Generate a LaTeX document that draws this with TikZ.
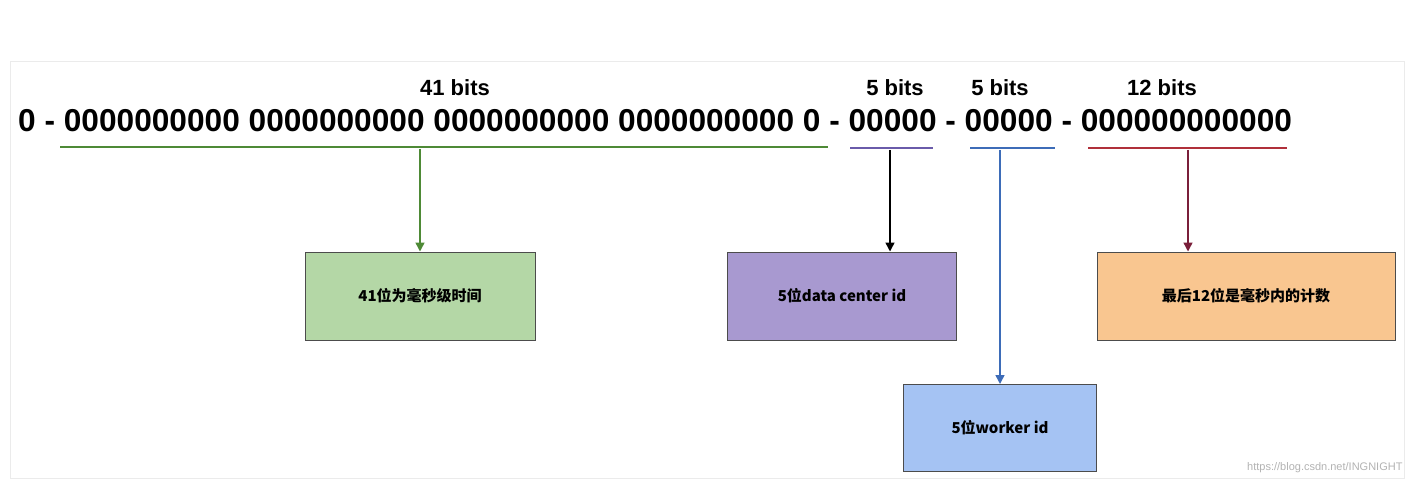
\documentclass[tikz,border=0pt]{standalone}
\usepackage{fontspec}
\setmainfont{Liberation Sans}
\newfontfamily\cjk{Noto Sans CJK SC}
\usetikzlibrary{arrows.meta}
\definecolor{gfill}{HTML}{B4D7A6}
\definecolor{pfill}{HTML}{A899D0}
\definecolor{ofill}{HTML}{F9C690}
\definecolor{bfill}{HTML}{A5C3F3}
\definecolor{gline}{HTML}{4E8A36}
\definecolor{pline}{HTML}{6A5BAA}
\definecolor{bline}{HTML}{3D6CB8}
\definecolor{rline}{HTML}{B0303A}
\definecolor{mline}{HTML}{7A1F3A}
\tikzset{
  lbl/.style={font=\bfseries\fontsize{22}{26}\selectfont, inner sep=0},
  box/.style={draw=black!70, line width=1pt, minimum height=88pt, font=\cjk\bfseries\fontsize{15}{18}\selectfont},
  ul/.style={line width=2.5pt},
  arr/.style={line width=1.5pt, -{Triangle[length=9pt,width=9pt]}}
}
\begin{document}
\begin{tikzpicture}[x=1pt,y=-1pt]
\useasboundingbox (0,0) rectangle (1414,484);
\draw[black!8, line width=1pt] (10,62) rectangle (1404,478);
\node[lbl, anchor=base west] (bits) at (18,132) {\resizebox{1274pt}{!}{0 - 0000000000 0000000000 0000000000 0000000000 0 - 00000 - 00000 - 000000000000}};
\node[lbl] (l41) at (455,88) {41 bits};
\node[lbl] (l5a) at (895,88) {5 bits};
\node[lbl] (l5b) at (1000,88) {5 bits};
\node[lbl] (l12) at (1162,88) {12 bits};
\coordinate (ga) at (60,147); \coordinate (gb) at (828,147);
\coordinate (pa) at (850,148); \coordinate (pb) at (933,148);
\coordinate (ba) at (970,148); \coordinate (bb) at (1055,148);
\coordinate (ra) at (1088,148); \coordinate (rb) at (1287,148);
\draw[ul, gline] (ga) -- (gb);
\draw[ul, pline] (pa) -- (pb);
\draw[ul, bline] (ba) -- (bb);
\draw[ul, rline] (ra) -- (rb);
\node[box, fill=gfill, minimum width=230pt] (g) at (420,296) {41位为毫秒级时间};
\node[box, fill=pfill, minimum width=229pt] (p) at (842,296) {5位data center id};
\node[box, fill=ofill, minimum width=298pt] (o) at (1246,296) {最后12位是毫秒内的计数};
\node[box, fill=bfill, minimum width=193pt, minimum height=87pt] (b) at (1000,428) {5位worker id};
\coordinate (gs) at (420,149); \coordinate (ps) at (890,150);
\coordinate (bs) at (1000,150); \coordinate (rs) at (1188,150);
\draw[arr, gline] (gs) -- (g.north);
\draw[arr, black] (ps) -- (p.north -| ps);
\draw[arr, bline] (bs) -- (b.north);
\draw[arr, mline] (rs) -- (o.north -| rs);
\node[anchor=south east, text=black!30, font=\fontsize{11}{13}\selectfont] (wm) at (1406,476) {https://blog.csdn.net/INGNIGHT};
\end{tikzpicture}
\end{document}
